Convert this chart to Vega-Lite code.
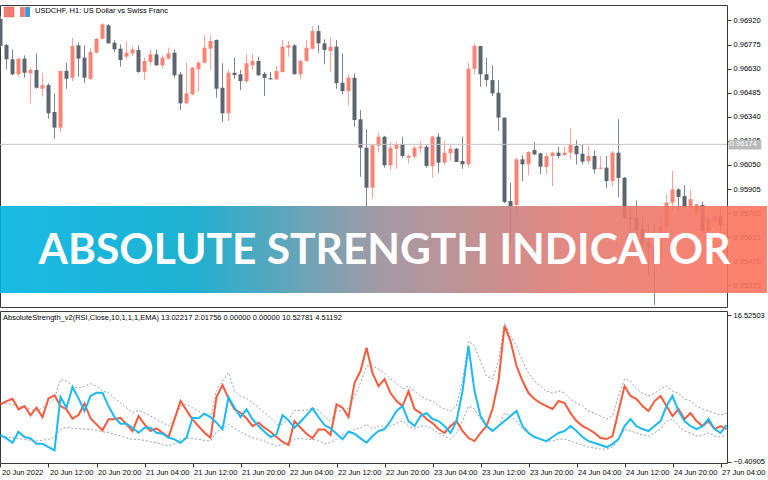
{
"$schema": "https://vega.github.io/schema/vega-lite/v6.json",
"background": "white",
"padding": {"left": -5, "top": 4, "right": 0, "bottom": 0},
"spacing": 4,
"bounds": "flush",
"config": {
  "view": {"stroke": "#3a3a3a", "strokeWidth": 1},
  "font": "Liberation Sans",
  "scale": {"continuousPadding": 0},
  "axis": {"labelFont": "Liberation Sans", "labelFontSize": 7.5, "labelColor": "#000000", "tickColor": "#333333", "grid": false, "domain": false, "labelOverlap": false, "labelFlush": false}
},
"datasets": {
  "candles": [
{"i":0,"o":0.96929,"h":0.96947,"l":0.96760,"c":0.96766},
{"i":1,"o":0.96772,"h":0.96780,"l":0.96626,"c":0.96686},
{"i":2,"o":0.96686,"h":0.96746,"l":0.96590,"c":0.96596},
{"i":3,"o":0.96596,"h":0.96696,"l":0.96581,"c":0.96690},
{"i":4,"o":0.96690,"h":0.96710,"l":0.96575,"c":0.96605},
{"i":5,"o":0.96602,"h":0.96636,"l":0.96421,"c":0.96622},
{"i":6,"o":0.96622,"h":0.96722,"l":0.96509,"c":0.96515},
{"i":7,"o":0.96509,"h":0.96605,"l":0.96461,"c":0.96531},
{"i":8,"o":0.96531,"h":0.96542,"l":0.96328,"c":0.96361},
{"i":9,"o":0.96369,"h":0.96481,"l":0.96208,"c":0.96275},
{"i":10,"o":0.96275,"h":0.96616,"l":0.96249,"c":0.96616},
{"i":11,"o":0.96616,"h":0.96666,"l":0.96509,"c":0.96569},
{"i":12,"o":0.96575,"h":0.96816,"l":0.96555,"c":0.96766},
{"i":13,"o":0.96770,"h":0.96786,"l":0.96581,"c":0.96690},
{"i":14,"o":0.96696,"h":0.96770,"l":0.96542,"c":0.96575},
{"i":15,"o":0.96569,"h":0.96756,"l":0.96561,"c":0.96730},
{"i":16,"o":0.96726,"h":0.96816,"l":0.96722,"c":0.96810},
{"i":17,"o":0.96810,"h":0.96903,"l":0.96806,"c":0.96897},
{"i":18,"o":0.96891,"h":0.96897,"l":0.96782,"c":0.96782},
{"i":19,"o":0.96786,"h":0.96802,"l":0.96730,"c":0.96746},
{"i":20,"o":0.96750,"h":0.96776,"l":0.96642,"c":0.96682},
{"i":21,"o":0.96702,"h":0.96796,"l":0.96686,"c":0.96726},
{"i":22,"o":0.96722,"h":0.96770,"l":0.96706,"c":0.96746},
{"i":23,"o":0.96742,"h":0.96770,"l":0.96605,"c":0.96610},
{"i":24,"o":0.96610,"h":0.96696,"l":0.96561,"c":0.96676},
{"i":25,"o":0.96670,"h":0.96746,"l":0.96650,"c":0.96716},
{"i":26,"o":0.96716,"h":0.96746,"l":0.96646,"c":0.96650},
{"i":27,"o":0.96650,"h":0.96710,"l":0.96629,"c":0.96696},
{"i":28,"o":0.96690,"h":0.96756,"l":0.96686,"c":0.96722},
{"i":29,"o":0.96726,"h":0.96746,"l":0.96575,"c":0.96590},
{"i":30,"o":0.96596,"h":0.96610,"l":0.96381,"c":0.96421},
{"i":31,"o":0.96421,"h":0.96666,"l":0.96415,"c":0.96481},
{"i":32,"o":0.96475,"h":0.96642,"l":0.96469,"c":0.96636},
{"i":33,"o":0.96626,"h":0.96676,"l":0.96489,"c":0.96666},
{"i":34,"o":0.96666,"h":0.96831,"l":0.96662,"c":0.96756},
{"i":35,"o":0.96750,"h":0.96831,"l":0.96626,"c":0.96796},
{"i":36,"o":0.96802,"h":0.96806,"l":0.96455,"c":0.96509},
{"i":37,"o":0.96515,"h":0.96662,"l":0.96309,"c":0.96361},
{"i":38,"o":0.96361,"h":0.96622,"l":0.96315,"c":0.96605},
{"i":39,"o":0.96605,"h":0.96696,"l":0.96569,"c":0.96592},
{"i":40,"o":0.96596,"h":0.96622,"l":0.96501,"c":0.96555},
{"i":41,"o":0.96555,"h":0.96716,"l":0.96542,"c":0.96662},
{"i":42,"o":0.96650,"h":0.96716,"l":0.96622,"c":0.96676},
{"i":43,"o":0.96676,"h":0.96702,"l":0.96586,"c":0.96590},
{"i":44,"o":0.96599,"h":0.96610,"l":0.96465,"c":0.96575},
{"i":45,"o":0.96572,"h":0.96610,"l":0.96561,"c":0.96566},
{"i":46,"o":0.96566,"h":0.96646,"l":0.96561,"c":0.96616},
{"i":47,"o":0.96610,"h":0.96802,"l":0.96605,"c":0.96762},
{"i":48,"o":0.96756,"h":0.96796,"l":0.96702,"c":0.96770},
{"i":49,"o":0.96770,"h":0.96776,"l":0.96596,"c":0.96596},
{"i":50,"o":0.96596,"h":0.96686,"l":0.96566,"c":0.96676},
{"i":51,"o":0.96676,"h":0.96802,"l":0.96670,"c":0.96756},
{"i":52,"o":0.96750,"h":0.96883,"l":0.96746,"c":0.96856},
{"i":53,"o":0.96856,"h":0.96891,"l":0.96726,"c":0.96782},
{"i":54,"o":0.96782,"h":0.96806,"l":0.96656,"c":0.96742},
{"i":55,"o":0.96736,"h":0.96816,"l":0.96610,"c":0.96762},
{"i":56,"o":0.96762,"h":0.96802,"l":0.96509,"c":0.96542},
{"i":57,"o":0.96545,"h":0.96722,"l":0.96475,"c":0.96495},
{"i":58,"o":0.96495,"h":0.96596,"l":0.96409,"c":0.96575},
{"i":59,"o":0.96575,"h":0.96602,"l":0.96281,"c":0.96321},
{"i":60,"o":0.96325,"h":0.96381,"l":0.95979,"c":0.96154},
{"i":61,"o":0.96154,"h":0.96265,"l":0.95797,"c":0.95913},
{"i":62,"o":0.95913,"h":0.96169,"l":0.95847,"c":0.96169},
{"i":63,"o":0.96165,"h":0.96245,"l":0.96124,"c":0.96220},
{"i":64,"o":0.96220,"h":0.96225,"l":0.96034,"c":0.96048},
{"i":65,"o":0.96048,"h":0.96189,"l":0.96020,"c":0.96154},
{"i":66,"o":0.96148,"h":0.96189,"l":0.96027,"c":0.96175},
{"i":67,"o":0.96175,"h":0.96220,"l":0.96094,"c":0.96104},
{"i":68,"o":0.96094,"h":0.96114,"l":0.96060,"c":0.96104},
{"i":69,"o":0.96100,"h":0.96165,"l":0.96088,"c":0.96154},
{"i":70,"o":0.96152,"h":0.96195,"l":0.96124,"c":0.96160},
{"i":71,"o":0.96160,"h":0.96169,"l":0.96034,"c":0.96044},
{"i":72,"o":0.96044,"h":0.96225,"l":0.95973,"c":0.96220},
{"i":73,"o":0.96220,"h":0.96241,"l":0.96003,"c":0.96064},
{"i":74,"o":0.96064,"h":0.96195,"l":0.96048,"c":0.96124},
{"i":75,"o":0.96120,"h":0.96169,"l":0.96074,"c":0.96148},
{"i":76,"o":0.96148,"h":0.96152,"l":0.96068,"c":0.96068},
{"i":77,"o":0.96074,"h":0.96220,"l":0.96027,"c":0.96054},
{"i":78,"o":0.96054,"h":0.96666,"l":0.96034,"c":0.96629},
{"i":79,"o":0.96629,"h":0.96782,"l":0.96596,"c":0.96766},
{"i":80,"o":0.96766,"h":0.96766,"l":0.96521,"c":0.96596},
{"i":81,"o":0.96596,"h":0.96696,"l":0.96521,"c":0.96561},
{"i":82,"o":0.96561,"h":0.96650,"l":0.96465,"c":0.96481},
{"i":83,"o":0.96485,"h":0.96561,"l":0.96255,"c":0.96335},
{"i":84,"o":0.96335,"h":0.96335,"l":0.95821,"c":0.95827},
{"i":85,"o":0.95833,"h":0.95943,"l":0.95568,"c":0.95803},
{"i":86,"o":0.95809,"h":0.96094,"l":0.95763,"c":0.96084},
{"i":87,"o":0.96084,"h":0.96108,"l":0.95953,"c":0.96054},
{"i":88,"o":0.96054,"h":0.96134,"l":0.95988,"c":0.96128},
{"i":89,"o":0.96140,"h":0.96189,"l":0.96108,"c":0.96114},
{"i":90,"o":0.96120,"h":0.96124,"l":0.95994,"c":0.96040},
{"i":91,"o":0.96038,"h":0.96124,"l":0.95997,"c":0.96104},
{"i":92,"o":0.96104,"h":0.96130,"l":0.95923,"c":0.96124},
{"i":93,"o":0.96124,"h":0.96159,"l":0.96090,"c":0.96104},
{"i":94,"o":0.96110,"h":0.96159,"l":0.96104,"c":0.96124},
{"i":95,"o":0.96124,"h":0.96271,"l":0.96084,"c":0.96171},
{"i":96,"o":0.96165,"h":0.96199,"l":0.96054,"c":0.96114},
{"i":97,"o":0.96118,"h":0.96175,"l":0.96054,"c":0.96070},
{"i":98,"o":0.96074,"h":0.96165,"l":0.96054,"c":0.96104},
{"i":99,"o":0.96104,"h":0.96138,"l":0.95997,"c":0.96024},
{"i":100,"o":0.96027,"h":0.96104,"l":0.96024,"c":0.96034},
{"i":101,"o":0.96034,"h":0.96104,"l":0.95910,"c":0.95953},
{"i":102,"o":0.95953,"h":0.96134,"l":0.95923,"c":0.96124},
{"i":103,"o":0.96124,"h":0.96325,"l":0.95857,"c":0.95972},
{"i":104,"o":0.95973,"h":0.95978,"l":0.95723,"c":0.95731},
{"i":105,"o":0.95733,"h":0.95793,"l":0.95642,"c":0.95723},
{"i":106,"o":0.95733,"h":0.95837,"l":0.95568,"c":0.95658},
{"i":107,"o":0.95664,"h":0.95737,"l":0.95522,"c":0.95576},
{"i":108,"o":0.95582,"h":0.95696,"l":0.95382,"c":0.95556},
{"i":109,"o":0.95562,"h":0.95689,"l":0.95207,"c":0.95462},
{"i":110,"o":0.95492,"h":0.95733,"l":0.95422,"c":0.95683},
{"i":111,"o":0.95677,"h":0.95873,"l":0.95592,"c":0.95823},
{"i":112,"o":0.95823,"h":0.96014,"l":0.95773,"c":0.95903},
{"i":113,"o":0.95903,"h":0.95910,"l":0.95773,"c":0.95857},
{"i":114,"o":0.95863,"h":0.95929,"l":0.95789,"c":0.95797},
{"i":115,"o":0.95797,"h":0.95897,"l":0.95783,"c":0.95844},
{"i":116,"o":0.95753,"h":0.95817,"l":0.95743,"c":0.95813},
{"i":117,"o":0.95809,"h":0.95829,"l":0.95642,"c":0.95652},
{"i":118,"o":0.95649,"h":0.95743,"l":0.95636,"c":0.95723},
{"i":119,"o":0.95713,"h":0.95763,"l":0.95696,"c":0.95743},
{"i":120,"o":0.95743,"h":0.95797,"l":0.95642,"c":0.95689}
  ],
  "ind": [
{"i":0,"bulls":2.68,"bears":6.22,"sigUp":6.40,"sigDn":2.56},
{"i":1,"bulls":2.29,"bears":6.60,"sigUp":6.31,"sigDn":2.46},
{"i":2,"bulls":1.79,"bears":6.87,"sigUp":6.22,"sigDn":2.36},
{"i":3,"bulls":3.06,"bears":5.64,"sigUp":6.00,"sigDn":2.27},
{"i":4,"bulls":2.45,"bears":6.02,"sigUp":5.83,"sigDn":2.18},
{"i":5,"bulls":2.29,"bears":4.95,"sigUp":5.64,"sigDn":2.08},
{"i":6,"bulls":1.67,"bears":5.83,"sigUp":5.45,"sigDn":1.98},
{"i":7,"bulls":1.67,"bears":4.75,"sigUp":5.83,"sigDn":2.08},
{"i":8,"bulls":1.29,"bears":6.91,"sigUp":6.22,"sigDn":2.18},
{"i":9,"bulls":0.90,"bears":7.26,"sigUp":6.91,"sigDn":2.45},
{"i":10,"bulls":7.06,"bears":6.02,"sigUp":9.10,"sigDn":3.33},
{"i":11,"bulls":5.83,"bears":5.64,"sigUp":8.91,"sigDn":3.60},
{"i":12,"bulls":8.22,"bears":4.56,"sigUp":8.33,"sigDn":3.45},
{"i":13,"bulls":6.91,"bears":4.98,"sigUp":8.07,"sigDn":3.45},
{"i":14,"bulls":5.45,"bears":6.29,"sigUp":8.33,"sigDn":3.33},
{"i":15,"bulls":7.18,"bears":4.61,"sigUp":8.60,"sigDn":3.33},
{"i":16,"bulls":7.56,"bears":3.91,"sigUp":8.33,"sigDn":3.22},
{"i":17,"bulls":7.56,"bears":3.22,"sigUp":7.75,"sigDn":3.06},
{"i":18,"bulls":6.02,"bears":4.49,"sigUp":7.56,"sigDn":2.94},
{"i":19,"bulls":4.75,"bears":4.49,"sigUp":6.91,"sigDn":2.76},
{"i":20,"bulls":3.98,"bears":4.67,"sigUp":6.40,"sigDn":2.56},
{"i":21,"bulls":3.98,"bears":3.91,"sigUp":5.83,"sigDn":2.36},
{"i":22,"bulls":3.52,"bears":3.14,"sigUp":5.25,"sigDn":2.18},
{"i":23,"bulls":2.94,"bears":4.87,"sigUp":5.53,"sigDn":2.18},
{"i":24,"bulls":3.52,"bears":3.91,"sigUp":5.25,"sigDn":2.06},
{"i":25,"bulls":3.52,"bears":3.14,"sigUp":4.87,"sigDn":1.90},
{"i":26,"bulls":2.94,"bears":3.45,"sigUp":4.49,"sigDn":1.79},
{"i":27,"bulls":2.83,"bears":2.94,"sigUp":4.10,"sigDn":1.60},
{"i":28,"bulls":2.36,"bears":2.45,"sigUp":3.71,"sigDn":1.41},
{"i":29,"bulls":2.18,"bears":4.49,"sigUp":4.49,"sigDn":1.67},
{"i":30,"bulls":1.79,"bears":6.60,"sigUp":6.02,"sigDn":2.18},
{"i":31,"bulls":2.36,"bears":5.53,"sigUp":6.22,"sigDn":2.36},
{"i":32,"bulls":4.67,"bears":4.49,"sigUp":5.83,"sigDn":2.29},
{"i":33,"bulls":4.61,"bears":3.71,"sigUp":5.45,"sigDn":2.18},
{"i":34,"bulls":5.13,"bears":2.94,"sigUp":5.07,"sigDn":2.06},
{"i":35,"bulls":4.75,"bears":2.36,"sigUp":4.75,"sigDn":1.98},
{"i":36,"bulls":4.10,"bears":7.06,"sigUp":7.83,"sigDn":3.06},
{"i":37,"bulls":3.33,"bears":8.45,"sigUp":8.91,"sigDn":3.45},
{"i":38,"bulls":7.06,"bears":6.91,"sigUp":9.87,"sigDn":3.91},
{"i":39,"bulls":5.83,"bears":5.64,"sigUp":7.75,"sigDn":3.45},
{"i":40,"bulls":4.75,"bears":5.25,"sigUp":7.18,"sigDn":3.06},
{"i":41,"bulls":5.64,"bears":4.61,"sigUp":6.91,"sigDn":2.68},
{"i":42,"bulls":4.49,"bears":3.71,"sigUp":6.40,"sigDn":2.36},
{"i":43,"bulls":3.71,"bears":4.10,"sigUp":5.83,"sigDn":2.18},
{"i":44,"bulls":3.06,"bears":3.52,"sigUp":5.25,"sigDn":1.98},
{"i":45,"bulls":2.45,"bears":3.06,"sigUp":4.67,"sigDn":1.67},
{"i":46,"bulls":2.76,"bears":2.45,"sigUp":3.91,"sigDn":1.41},
{"i":47,"bulls":4.98,"bears":1.90,"sigUp":3.91,"sigDn":1.60},
{"i":48,"bulls":4.37,"bears":1.52,"sigUp":4.49,"sigDn":1.79},
{"i":49,"bulls":3.52,"bears":4.29,"sigUp":5.53,"sigDn":2.18},
{"i":50,"bulls":4.21,"bears":3.52,"sigUp":5.53,"sigDn":2.29},
{"i":51,"bulls":4.98,"bears":2.83,"sigUp":5.53,"sigDn":2.18},
{"i":52,"bulls":5.76,"bears":2.29,"sigUp":5.83,"sigDn":2.18},
{"i":53,"bulls":4.75,"bears":3.33,"sigUp":5.53,"sigDn":2.06},
{"i":54,"bulls":3.83,"bears":3.33,"sigUp":4.75,"sigDn":1.67},
{"i":55,"bulls":3.45,"bears":2.68,"sigUp":4.29,"sigDn":1.79},
{"i":56,"bulls":2.83,"bears":6.22,"sigUp":5.45,"sigDn":2.18},
{"i":57,"bulls":2.18,"bears":5.83,"sigUp":5.53,"sigDn":2.68},
{"i":58,"bulls":3.06,"bears":4.75,"sigUp":5.76,"sigDn":2.94},
{"i":59,"bulls":2.83,"bears":8.71,"sigUp":7.06,"sigDn":3.33},
{"i":60,"bulls":2.29,"bears":10.06,"sigUp":8.71,"sigDn":3.52},
{"i":61,"bulls":1.79,"bears":12.75,"sigUp":10.64,"sigDn":3.91},
{"i":62,"bulls":2.56,"bears":9.83,"sigUp":10.64,"sigDn":3.37},
{"i":63,"bulls":3.14,"bears":8.33,"sigUp":10.29,"sigDn":3.71},
{"i":64,"bulls":3.37,"bears":9.14,"sigUp":9.83,"sigDn":3.71},
{"i":65,"bulls":4.29,"bears":7.52,"sigUp":9.14,"sigDn":3.71},
{"i":66,"bulls":5.45,"bears":6.60,"sigUp":8.68,"sigDn":4.06},
{"i":67,"bulls":6.02,"bears":6.02,"sigUp":7.98,"sigDn":4.29},
{"i":68,"bulls":4.29,"bears":7.75,"sigUp":8.33,"sigDn":3.71},
{"i":69,"bulls":3.71,"bears":5.68,"sigUp":7.75,"sigDn":3.37},
{"i":70,"bulls":4.87,"bears":5.21,"sigUp":7.18,"sigDn":3.71},
{"i":71,"bulls":5.21,"bears":4.52,"sigUp":6.83,"sigDn":3.71},
{"i":72,"bulls":4.52,"bears":4.06,"sigUp":6.60,"sigDn":3.37},
{"i":73,"bulls":4.29,"bears":3.37,"sigUp":6.02,"sigDn":2.91},
{"i":74,"bulls":3.71,"bears":2.91,"sigUp":5.68,"sigDn":2.56},
{"i":75,"bulls":2.91,"bears":3.71,"sigUp":5.45,"sigDn":2.21},
{"i":76,"bulls":4.29,"bears":4.29,"sigUp":6.02,"sigDn":2.91},
{"i":77,"bulls":7.75,"bears":3.14,"sigUp":8.91,"sigDn":4.29},
{"i":78,"bulls":12.95,"bears":2.33,"sigUp":13.52,"sigDn":6.02},
{"i":79,"bulls":7.75,"bears":1.98,"sigUp":12.95,"sigDn":5.68},
{"i":80,"bulls":4.87,"bears":2.91,"sigUp":11.22,"sigDn":4.52},
{"i":81,"bulls":3.71,"bears":3.71,"sigUp":9.49,"sigDn":3.71},
{"i":82,"bulls":3.14,"bears":5.68,"sigUp":9.14,"sigDn":3.37},
{"i":83,"bulls":3.71,"bears":8.91,"sigUp":11.22,"sigDn":3.71},
{"i":84,"bulls":4.29,"bears":15.26,"sigUp":15.60,"sigDn":5.21},
{"i":85,"bulls":4.87,"bears":13.52,"sigUp":14.10,"sigDn":4.87},
{"i":86,"bulls":5.45,"bears":10.64,"sigUp":12.95,"sigDn":4.29},
{"i":87,"bulls":3.71,"bears":8.91,"sigUp":11.22,"sigDn":3.37},
{"i":88,"bulls":2.91,"bears":7.52,"sigUp":9.83,"sigDn":2.91},
{"i":89,"bulls":2.45,"bears":6.83,"sigUp":8.91,"sigDn":2.45},
{"i":90,"bulls":2.21,"bears":6.37,"sigUp":8.33,"sigDn":2.21},
{"i":91,"bulls":1.98,"bears":6.02,"sigUp":7.75,"sigDn":1.98},
{"i":92,"bulls":2.45,"bears":5.68,"sigUp":7.52,"sigDn":1.98},
{"i":93,"bulls":2.91,"bears":6.60,"sigUp":7.75,"sigDn":2.21},
{"i":94,"bulls":3.14,"bears":6.37,"sigUp":7.52,"sigDn":2.21},
{"i":95,"bulls":3.71,"bears":5.21,"sigUp":6.83,"sigDn":1.98},
{"i":96,"bulls":3.14,"bears":4.29,"sigUp":6.37,"sigDn":1.75},
{"i":97,"bulls":2.45,"bears":3.71,"sigUp":6.02,"sigDn":1.52},
{"i":98,"bulls":1.98,"bears":3.37,"sigUp":5.45,"sigDn":1.29},
{"i":99,"bulls":1.75,"bears":2.91,"sigUp":5.21,"sigDn":1.18},
{"i":100,"bulls":1.52,"bears":2.33,"sigUp":4.87,"sigDn":1.06},
{"i":101,"bulls":1.29,"bears":2.21,"sigUp":4.52,"sigDn":1.06},
{"i":102,"bulls":1.63,"bears":2.56,"sigUp":4.87,"sigDn":1.29},
{"i":103,"bulls":2.21,"bears":5.45,"sigUp":7.18,"sigDn":2.21},
{"i":104,"bulls":3.71,"bears":8.33,"sigUp":9.14,"sigDn":3.37},
{"i":105,"bulls":4.52,"bears":7.18,"sigUp":8.91,"sigDn":3.14},
{"i":106,"bulls":3.71,"bears":6.83,"sigUp":7.98,"sigDn":2.91},
{"i":107,"bulls":3.37,"bears":6.02,"sigUp":7.52,"sigDn":2.68},
{"i":108,"bulls":3.14,"bears":5.45,"sigUp":7.18,"sigDn":2.56},
{"i":109,"bulls":3.71,"bears":6.60,"sigUp":7.52,"sigDn":2.91},
{"i":110,"bulls":4.29,"bears":7.18,"sigUp":7.98,"sigDn":3.37},
{"i":111,"bulls":6.02,"bears":6.02,"sigUp":8.33,"sigDn":4.29},
{"i":112,"bulls":7.18,"bears":4.87,"sigUp":7.75,"sigDn":4.52},
{"i":113,"bulls":5.45,"bears":5.68,"sigUp":7.52,"sigDn":3.71},
{"i":114,"bulls":4.29,"bears":4.52,"sigUp":6.83,"sigDn":3.14},
{"i":115,"bulls":3.71,"bears":5.21,"sigUp":6.60,"sigDn":2.91},
{"i":116,"bulls":3.37,"bears":4.29,"sigUp":6.02,"sigDn":2.56},
{"i":117,"bulls":3.71,"bears":3.71,"sigUp":5.68,"sigDn":2.68},
{"i":118,"bulls":4.52,"bears":4.29,"sigUp":5.45,"sigDn":2.91},
{"i":119,"bulls":3.37,"bears":3.37,"sigUp":5.21,"sigDn":2.56},
{"i":120,"bulls":2.91,"bears":3.71,"sigUp":4.98,"sigDn":2.45},
{"i":121,"bulls":3.83,"bears":3.37,"sigUp":5.21,"sigDn":2.68}
  ]
},
"vconcat": [
  {
    "width": 727,
    "height": 302,
    "data": {"name": "candles"},
    "resolve": {"axis": {"x": "independent", "y": "independent"}},
    "layer": [
      {
        "mark": {"type": "rule", "strokeWidth": 1, "clip": true},
        "encoding": {
          "x": {"field": "i", "type": "quantitative", "scale": {"domain": [-0.083, 121.08], "nice": false, "zero": false, "padding": 0}, "axis": null},
          "y": {"field": "l", "type": "quantitative", "scale": {"domain": [0.95195, 0.97013], "nice": false, "zero": false, "padding": 0},
                "axis": {"orient": "right", "title": null, "values": [0.9692, 0.96775, 0.9663, 0.96485, 0.9634, 0.96195, 0.9605, 0.95905, 0.9576, 0.95615, 0.9547, 0.95325], "format": ".5f", "tickSize": 4, "labelPadding": 2, "labelOverlap": false}},
          "y2": {"field": "h"},
          "color": {"condition": {"test": "datum.c >= datum.o", "value": "#fba398"}, "value": "#7d858c"}
        }
      },
      {
        "mark": {"type": "bar", "size": 4, "clip": true},
        "encoding": {
          "x": {"field": "i", "type": "quantitative", "axis": null},
          "y": {"field": "o", "type": "quantitative", "axis": null},
          "y2": {"field": "c"},
          "color": {"condition": {"test": "datum.c >= datum.o", "value": "#fa8474"}, "value": "#5d6670"}
        }
      },
      {
        "data": {"values": [{"price": 0.96174}]},
        "mark": {"type": "rule", "color": "#c4c4c4", "strokeWidth": 1},
        "encoding": {"y": {"field": "price", "type": "quantitative", "axis": null}}
      },
      {
        "data": {"values": [{}]},
        "mark": {"type": "rect", "clip": false, "fill": "#b9b9b9"},
        "encoding": {
          "x": {"datum": 121.35, "type": "quantitative", "axis": null}, "x2": {"datum": 126.8},
          "y": {"datum": 0.96202, "type": "quantitative", "axis": null}, "y2": {"datum": 0.96143}
        }
      },
      {
        "data": {"values": [{"price": 0.96174}]},
        "mark": {"type": "text", "clip": false, "align": "left", "baseline": "middle", "color": "white", "fontSize": 7.5, "font": "Liberation Sans"},
        "encoding": {
          "x": {"datum": 121.55, "type": "quantitative", "axis": null},
          "y": {"field": "price", "type": "quantitative", "axis": null},
          "text": {"field": "price", "type": "quantitative", "format": ".5f"}
        }
      },
      {
        "data": {"values": [{}]},
        "mark": {"type": "rect", "clip": false, "fill": "#f47c72", "stroke": "#e05a55", "strokeWidth": 0.5},
        "encoding": {
          "x": {"datum": 0.6, "type": "quantitative", "axis": null}, "x2": {"datum": 2.25},
          "y": {"datum": 0.97001, "type": "quantitative", "axis": null}, "y2": {"datum": 0.96941}
        }
      },
      {
        "data": {"values": [{}]},
        "mark": {"type": "rect", "clip": false, "fill": "#f47c72"},
        "encoding": {
          "x": {"datum": 3.25, "type": "quantitative", "axis": null}, "x2": {"datum": 4.05},
          "y": {"datum": 0.97001, "type": "quantitative", "axis": null}, "y2": {"datum": 0.96941}
        }
      },
      {
        "data": {"values": [{}]},
        "mark": {"type": "rect", "clip": false, "fill": "#3c9be0"},
        "encoding": {
          "x": {"datum": 4.1, "type": "quantitative", "axis": null}, "x2": {"datum": 4.92},
          "y": {"datum": 0.97001, "type": "quantitative", "axis": null}, "y2": {"datum": 0.96941}
        }
      },
      {
        "data": {"values": [{}]},
        "mark": {"type": "text", "text": "USDCHF, H1:  US Dollar vs Swiss Franc", "align": "left", "baseline": "middle", "fontSize": 7.5, "font": "Liberation Sans", "color": "#000000"},
        "encoding": {
          "x": {"datum": 5.75, "type": "quantitative", "axis": null},
          "y": {"datum": 0.96977, "type": "quantitative", "axis": null}
        }
      },
      {
        "data": {"values": [{}]},
        "mark": {"type": "rect", "clip": false, "fillOpacity": 0.9,
          "fill": {"gradient": "linear", "x1": 0, "y1": 0, "x2": 1, "y2": 0,
            "stops": [
              {"offset": 0, "color": "#00b4e2"},
              {"offset": 0.25, "color": "#05a8cc"},
              {"offset": 0.5, "color": "#9a8f9a"},
              {"offset": 0.75, "color": "#e37b72"},
              {"offset": 1, "color": "#ff735c"}
            ]}},
        "encoding": {
          "x": {"datum": -0.25, "type": "quantitative", "axis": null}, "x2": {"datum": 127.75},
          "y": {"datum": 0.95803, "type": "quantitative", "axis": null}, "y2": {"datum": 0.9528}
        }
      },
      {
        "data": {"values": [{}]},
        "mark": {"type": "text", "clip": false, "text": "ABSOLUTE STRENGTH INDICATOR", "align": "center", "baseline": "middle", "font": "Lato", "fontWeight": "bold", "fontSize": 42.5, "color": "white"},
        "encoding": {
          "x": {"datum": 64.0, "type": "quantitative", "axis": null},
          "y": {"datum": 0.95532, "type": "quantitative", "axis": null}
        }
      }
    ]
  },
  {
    "width": 727,
    "height": 152,
    "data": {"name": "ind"},
    "resolve": {"axis": {"x": "independent", "y": "independent"}},
    "layer": [
      {
        "mark": {"type": "line", "color": "#97a1b3", "strokeWidth": 1, "strokeDash": [2, 2]},
        "encoding": {
          "x": {"field": "i", "type": "quantitative", "scale": {"domain": [-0.083, 121.08], "nice": false, "zero": false, "padding": 0},
                "axis": {"title": null, "values": [0, 8, 16, 24, 32, 40, 48, 56, 64, 72, 80, 88, 96, 104, 112, 120],
                         "labelExpr": "['20 Jun 2022','20 Jun 12:00','20 Jun 20:00','21 Jun 04:00','21 Jun 12:00','21 Jun 20:00','22 Jun 04:00','22 Jun 12:00','22 Jun 20:00','23 Jun 04:00','23 Jun 12:00','23 Jun 20:00','24 Jun 04:00','24 Jun 12:00','24 Jun 20:00','27 Jun 04:00'][round(datum.value/8)]",
                         "labelAlign": "left", "labelOffset": 1, "tickSize": 4, "labelPadding": 1, "labelOverlap": false}},
          "y": {"field": "sigUp", "type": "quantitative", "scale": {"domain": [-0.55, 16.99], "nice": false, "zero": false, "padding": 0},
                "axis": {"orient": "right", "title": null, "values": [16.52503, -0.40905], "format": ".5f", "tickSize": 4, "labelPadding": 2, "labelOverlap": false}}
        }
      },
      {
        "mark": {"type": "line", "color": "#97a1b3", "strokeWidth": 1, "strokeDash": [2, 2]},
        "encoding": {
          "x": {"field": "i", "type": "quantitative", "axis": null},
          "y": {"field": "sigDn", "type": "quantitative", "axis": null}
        }
      },
      {
        "mark": {"type": "line", "color": "#f55a3c", "strokeWidth": 2},
        "encoding": {
          "x": {"field": "i", "type": "quantitative", "axis": null},
          "y": {"field": "bears", "type": "quantitative", "axis": null}
        }
      },
      {
        "mark": {"type": "line", "color": "#1cb9f2", "strokeWidth": 2},
        "encoding": {
          "x": {"field": "i", "type": "quantitative", "axis": null},
          "y": {"field": "bulls", "type": "quantitative", "axis": null}
        }
      },
      {
        "data": {"values": [{}]},
        "mark": {"type": "text", "text": "AbsoluteStrength_v2(RSI,Close,10,1,1,1,EMA) 13.02217 2.01756 0.00000 0.00000 10.52781 4.51192", "align": "left", "baseline": "middle", "fontSize": 7.5, "font": "Liberation Sans", "color": "#000000"},
        "encoding": {
          "x": {"datum": 0.42, "type": "quantitative", "axis": null},
          "y": {"datum": 16.18, "type": "quantitative", "axis": null}
        }
      }
    ]
  }
]
}
